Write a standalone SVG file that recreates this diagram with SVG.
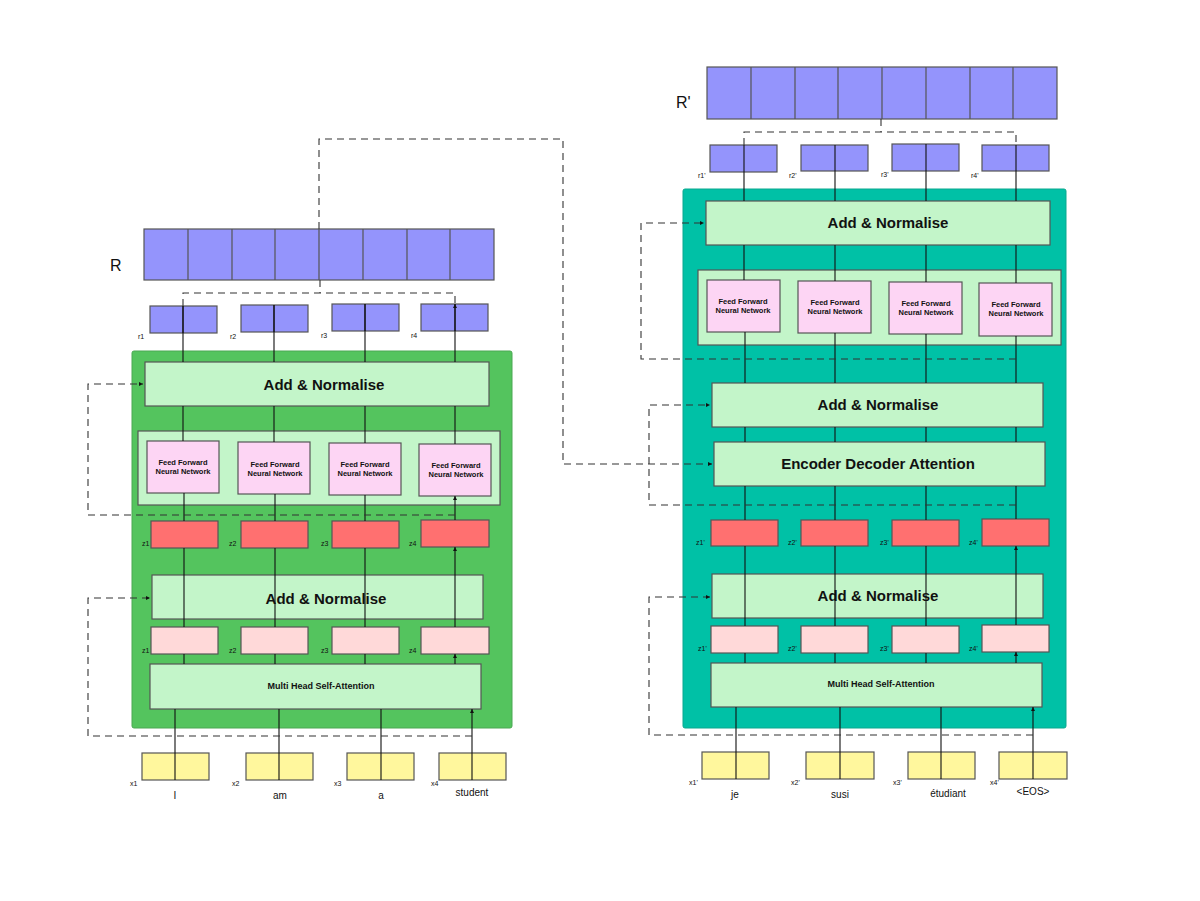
<svg xmlns="http://www.w3.org/2000/svg" width="1200" height="901" viewBox="0 0 1200 901">
<defs>
<style>
.b{stroke:#555;stroke-width:1.2}
.v{fill:#9494fc}.an{fill:#c3f5c9}.ff{fill:#fdd5f4}.zr{fill:#ff7070}.zp{fill:#ffd9d9}.y{fill:#fff79d}
.ln{stroke:#111;stroke-width:1.1;fill:none}
.d{stroke:#333;stroke-width:1.1;fill:none;stroke-dasharray:7,5}
text{font-family:"Liberation Sans",Arial,sans-serif;fill:#111}
.big{font-size:15px;font-weight:bold;text-anchor:middle}
.ffl{font-size:7.5px;font-weight:bold;text-anchor:middle}
.sm{font-size:7px}
.w{font-size:10px;text-anchor:middle}
</style>
<marker id="a" viewBox="0 0 6 6" refX="6" refY="3" markerWidth="4" markerHeight="4" orient="auto"><path d="M0,0L6,3L0,6z" fill="#111"/></marker>
</defs>
<rect width="1200" height="901" fill="#fff"/>

<g id="encoder">
<rect x="132" y="351" width="380" height="377" rx="2" fill="#54c45e" stroke="#4aa852"/>
</g>
<g id="decoder">
<rect x="683" y="189" width="383" height="539" rx="2" fill="#00c1a6" stroke="#0aa88f"/>
</g>

<g id="R">
<rect class="v b" x="144" y="229" width="350" height="51"/>
<path class="b" d="M188 229v51M232 229v51M275 229v51M319 229v51M363 229v51M407 229v51M450 229v51"/>
<text x="110" y="271" font-size="16">R</text>
</g>
<g id="Rp">
<rect class="v b" x="707" y="67" width="350" height="52"/>
<path class="b" d="M751 67v52M795 67v52M838 67v52M882 67v52M926 67v52M970 67v52M1013 67v52"/>
<text x="676" y="108" font-size="16">R'</text>
</g>

<g id="r-left">
<rect class="v b" x="150" y="306" width="67" height="27"/><rect class="v b" x="241" y="305" width="67" height="27"/><rect class="v b" x="332" y="304" width="67" height="27"/><rect class="v b" x="421" y="304" width="67" height="27"/>
<text class="sm" x="138" y="339">r1</text><text class="sm" x="230" y="339">r2</text><text class="sm" x="321" y="338">r3</text><text class="sm" x="411" y="338">r4</text>
</g>
<g id="r-right">
<rect class="v b" x="710" y="145" width="67" height="27"/><rect class="v b" x="801" y="145" width="67" height="26"/><rect class="v b" x="892" y="144" width="67" height="27"/><rect class="v b" x="982" y="145" width="67" height="26"/>
<text class="sm" x="698" y="178">r1'</text><text class="sm" x="789" y="178">r2'</text><text class="sm" x="881" y="177">r3'</text><text class="sm" x="971" y="178">r4'</text>
</g>

<g id="enc-addnorm-top"><rect class="an b" x="145" y="362" width="344" height="44"/><text class="big" x="324" y="390">Add &amp; Normalise</text></g>
<g id="enc-ffn">
<rect class="an b" x="138" y="431" width="362" height="74"/>
<rect class="ff b" x="147" y="441" width="72" height="52"/><text class="ffl" x="183" y="465">Feed Forward</text><text class="ffl" x="183" y="474">Neural Network</text>
<rect class="ff b" x="238" y="442" width="72" height="52"/><text class="ffl" x="275" y="467">Feed Forward</text><text class="ffl" x="275" y="476">Neural Network</text>
<rect class="ff b" x="329" y="443" width="72" height="52"/><text class="ffl" x="365" y="467">Feed Forward</text><text class="ffl" x="365" y="476">Neural Network</text>
<rect class="ff b" x="419" y="444" width="72" height="52"/><text class="ffl" x="456" y="468">Feed Forward</text><text class="ffl" x="456" y="477">Neural Network</text>
</g>
<g id="enc-z">
<rect class="zr b" x="151" y="521" width="67" height="27"/><rect class="zr b" x="241" y="521" width="67" height="27"/><rect class="zr b" x="332" y="521" width="67" height="27"/><rect class="zr b" x="421" y="520" width="68" height="27"/>
<text class="sm" x="142" y="546">z1</text><text class="sm" x="229" y="546">z2</text><text class="sm" x="321" y="546">z3</text><text class="sm" x="409" y="546">z4</text>
</g>
<g id="enc-addnorm-bot"><rect class="an b" x="152" y="575" width="331" height="44"/><text class="big" x="326" y="604">Add &amp; Normalise</text></g>
<g id="enc-zp">
<rect class="zp b" x="151" y="627" width="67" height="27"/><rect class="zp b" x="241" y="627" width="67" height="27"/><rect class="zp b" x="332" y="627" width="67" height="27"/><rect class="zp b" x="421" y="627" width="68" height="27"/>
<text class="sm" x="142" y="653">z1</text><text class="sm" x="229" y="653">z2</text><text class="sm" x="321" y="653">z3</text><text class="sm" x="409" y="653">z4</text>
</g>
<g id="enc-mhsa"><rect class="an b" x="150" y="664" width="331" height="45"/><text x="321" y="689" font-size="9" font-weight="bold" text-anchor="middle">Multi Head Self-Attention</text></g>
<g id="enc-inputs">
<rect class="y b" x="142" y="753" width="67" height="27"/><rect class="y b" x="246" y="753" width="67" height="27"/><rect class="y b" x="347" y="753" width="67" height="27"/><rect class="y b" x="439" y="753" width="67" height="27"/>
<text class="sm" x="130" y="786">x1</text><text class="sm" x="232" y="786">x2</text><text class="sm" x="334" y="786">x3</text><text class="sm" x="431" y="786">x4</text>
<text class="w" x="175" y="799">I</text><text class="w" x="280" y="799">am</text><text class="w" x="381" y="799">a</text><text class="w" x="472" y="796">student</text>
</g>

<g id="dec-addnorm-top"><rect class="an b" x="706" y="201" width="344" height="44"/><text class="big" x="888" y="228">Add &amp; Normalise</text></g>
<g id="dec-ffn">
<rect class="an b" x="698" y="270" width="363" height="75"/>
<rect class="ff b" x="707" y="280" width="73" height="52"/><text class="ffl" x="743" y="304">Feed Forward</text><text class="ffl" x="743" y="313">Neural Network</text>
<rect class="ff b" x="798" y="281" width="73" height="52"/><text class="ffl" x="835" y="305">Feed Forward</text><text class="ffl" x="835" y="314">Neural Network</text>
<rect class="ff b" x="889" y="282" width="73" height="52"/><text class="ffl" x="926" y="306">Feed Forward</text><text class="ffl" x="926" y="315">Neural Network</text>
<rect class="ff b" x="979" y="283" width="73" height="53"/><text class="ffl" x="1016" y="307">Feed Forward</text><text class="ffl" x="1016" y="316">Neural Network</text>
</g>
<g id="dec-addnorm-mid"><rect class="an b" x="712" y="383" width="331" height="44"/><text class="big" x="878" y="410">Add &amp; Normalise</text></g>
<g id="dec-eda"><rect class="an b" x="714" y="442" width="331" height="44"/><text class="big" x="878" y="469">Encoder Decoder Attention</text></g>
<g id="dec-z">
<rect class="zr b" x="711" y="520" width="67" height="26"/><rect class="zr b" x="801" y="520" width="67" height="26"/><rect class="zr b" x="892" y="520" width="67" height="26"/><rect class="zr b" x="982" y="519" width="67" height="27"/>
<text class="sm" x="696" y="545">z1'</text><text class="sm" x="788" y="545">z2'</text><text class="sm" x="880" y="545">z3'</text><text class="sm" x="969" y="545">z4'</text>
</g>
<g id="dec-addnorm-bot"><rect class="an b" x="712" y="574" width="331" height="44"/><text class="big" x="878" y="601">Add &amp; Normalise</text></g>
<g id="dec-zp">
<rect class="zp b" x="711" y="626" width="67" height="27"/><rect class="zp b" x="801" y="626" width="67" height="27"/><rect class="zp b" x="892" y="626" width="67" height="27"/><rect class="zp b" x="982" y="625" width="67" height="27"/>
<text class="sm" x="698" y="651">z1'</text><text class="sm" x="788" y="651">z2'</text><text class="sm" x="880" y="651">z3'</text><text class="sm" x="969" y="651">z4'</text>
</g>
<g id="dec-mhsa"><rect class="an b" x="711" y="663" width="331" height="44"/><text x="881" y="687" font-size="9" font-weight="bold" text-anchor="middle">Multi Head Self-Attention</text></g>
<g id="dec-inputs">
<rect class="y b" x="702" y="752" width="67" height="27"/><rect class="y b" x="806" y="752" width="68" height="27"/><rect class="y b" x="908" y="752" width="67" height="27"/><rect class="y b" x="999" y="752" width="68" height="27"/>
<text class="sm" x="689" y="785">x1'</text><text class="sm" x="791" y="785">x2'</text><text class="sm" x="893" y="785">x3'</text><text class="sm" x="990" y="785">x4'</text>
<text class="w" x="735" y="798">je</text><text class="w" x="840" y="798">susi</text><text class="w" x="948" y="797">étudiant</text><text class="w" x="1033" y="795">&lt;EOS&gt;</text>
</g>

<g id="connectors">
<!-- encoder solid -->
<path class="ln" d="M175 780V709M279 780V709M381 780V709M472 780V709" marker-end="url(#a)"/>
<path class="ln" d="M184 664V654M275 664V654M365 664V654M455 664V654" marker-end="url(#a)"/>
<path class="ln" d="M184 627V548M275 627V548M365 627V548M455 627V547" marker-end="url(#a)"/>
<path class="ln" d="M184 521V493M275 521V494M365 521V495M455 520V496" marker-end="url(#a)"/>
<path class="ln" d="M183 441V406M274 442V406M365 443V406M455 444V406"/>
<path class="ln" d="M183 362V306M274 362V305M365 362V304M455 362V304" marker-end="url(#a)"/>
<path class="ln" d="M183 333V306M274 332V305M365 331V304M455 331V304"/>
<!-- decoder solid -->
<path class="ln" d="M736 779V707M840 779V707M941 779V707M1033 779V707" marker-end="url(#a)"/>
<path class="ln" d="M745 663V653M835 663V653M926 663V653M1016 663V652" marker-end="url(#a)"/>
<path class="ln" d="M745 626V546M835 626V546M926 626V546M1016 625V546" marker-end="url(#a)"/>
<path class="ln" d="M745 520V486M835 520V486M926 520V486M1016 519V486"/>
<path class="ln" d="M745 442V427M835 442V427M926 442V427M1016 442V427"/>
<path class="ln" d="M745 383V332M835 383V333M926 383V334M1016 383V336"/>
<path class="ln" d="M744 280V245M835 281V245M926 282V245M1016 283V245"/>
<path class="ln" d="M744 201V145M835 201V145M926 201V144M1016 201V145"/>
<!-- dashed -->
<path class="d" d="M472 736H88V598H150" marker-end="url(#a)"/>
<path class="d" d="M455 515H88V384H143" marker-end="url(#a)"/>
<path class="d" d="M320 280V293M183 306V293H455V304"/>
<path class="d" d="M319 229V139H563V464H712" marker-end="url(#a)"/>
<path class="d" d="M881 119V132M744 145V132H1016V145"/>
<path class="d" d="M1016 359H641V223H704" marker-end="url(#a)"/>
<path class="d" d="M1016 505H649V405H710" marker-end="url(#a)"/>
<path class="d" d="M1033 735H649V597H710" marker-end="url(#a)"/>
</g>
</svg>
